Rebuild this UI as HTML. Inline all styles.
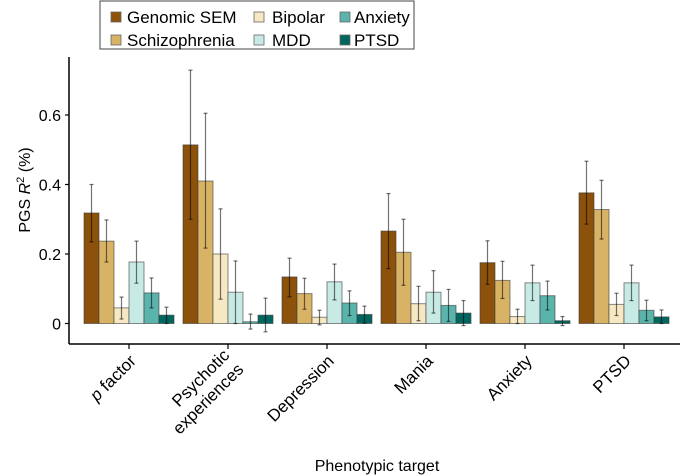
<!DOCTYPE html>
<html><head><meta charset="utf-8"><style>
body{margin:0;background:#fff}
svg{display:block;font-family:"Liberation Sans",Arial,sans-serif}
</style></head><body>
<svg id="c" width="685" height="476">
<g id="legend">
<rect x="100" y="1" width="314" height="48" fill="#fff" stroke="#444" stroke-width="1"/>
</g>
<g id="plot"></g>
<text x="30" y="190" font-size="16" text-anchor="middle" transform="rotate(-90 30 190)">PGS <tspan font-style="italic">R</tspan><tspan font-size="11" dy="-6">2</tspan><tspan dy="6"> (%)</tspan></text>
<text x="377" y="471" font-size="16" text-anchor="middle">Phenotypic target</text>
</svg>
<script>
const categories=["p factor","Psychotic experiences","Depression","Mania","Anxiety","PTSD"];
const series=["Genomic SEM","Schizophrenia","Bipolar","MDD","Anxiety","PTSD"];
const colors=["#8c510a","#d8b365","#f6e8c3","#c7eae5","#5ab4ac","#01665e"];
const vals=[
[0.318,0.237,0.045,0.177,0.088,0.024],
[0.514,0.41,0.2,0.09,0.005,0.024],
[0.134,0.086,0.018,0.12,0.059,0.026],
[0.266,0.205,0.057,0.09,0.052,0.03],
[0.175,0.124,0.02,0.117,0.08,0.008],
[0.376,0.328,0.055,0.117,0.038,0.019]];
const lo=[
[0.235,0.177,0.013,0.116,0.045,0.0],
[0.30,0.217,0.07,0.0,-0.016,-0.024],
[0.077,0.041,-0.004,0.068,0.023,0.001],
[0.158,0.11,0.008,0.03,0.006,-0.006],
[0.113,0.072,0.0,0.066,0.039,-0.006],
[0.286,0.243,0.023,0.066,0.008,0.0]];
const hi=[
[0.40,0.298,0.076,0.237,0.131,0.047],
[0.729,0.605,0.33,0.18,0.027,0.073],
[0.188,0.13,0.038,0.171,0.094,0.05],
[0.374,0.30,0.107,0.152,0.098,0.066],
[0.238,0.179,0.041,0.168,0.122,0.02],
[0.467,0.412,0.087,0.168,0.067,0.039]];
const yTicks=[0,0.2,0.4,0.6];
const yTickLabels=["0","0.2","0.4","0.6"];

const NS="http://www.w3.org/2000/svg";
const svg=document.getElementById('c'),plot=document.getElementById('plot'),leg=document.getElementById('legend');
function mk(t,a,p){const e=document.createElementNS(NS,t);for(const k in a)e.setAttribute(k,a[k]);(p||plot).appendChild(e);return e;}
const y0=323.5,k=347.5;
const Y=v=>y0-v*k;
const bw=15,gStart=84,gStep=99;
const X=(g,s)=>gStart+g*gStep+s*bw;
let ax=mk('line',{x1:69,y1:57,x2:69,y2:344,stroke:'#000','stroke-width':1.5});


let bx=mk('line',{x1:69,y1:344,x2:680,y2:344,stroke:'#000','stroke-width':1.5});


yTicks.forEach((t,i)=>{
 const tk=mk('line',{x1:65,x2:69,y1:Y(t),y2:Y(t),stroke:'#000','stroke-width':1.2});
 
 
 const tl=mk('text',{x:61,y:Y(t)+6,'font-size':16,'text-anchor':'end'});
 tl.textContent=yTickLabels[i];
 
 
});
categories.forEach((c,g)=>{
 vals[g].forEach((v,s)=>{
  const top=Math.min(Y(v),Y(0)),h=Math.abs(Y(v)-Y(0));
  const r=mk('rect',{x:X(g,s),y:top,width:bw,height:Math.max(h,0.5),fill:colors[s],stroke:'rgba(60,60,60,0.6)','stroke-width':1});
  
  
 });
 vals[g].forEach((v,s)=>{
  const cx=X(g,s)+bw/2;
  const eg=mk('g',{stroke:'rgba(0,0,0,0.55)','stroke-width':1.2});
  
  
  mk('line',{x1:cx,x2:cx,y1:Y(lo[g][s]),y2:Y(hi[g][s])},eg);
  mk('line',{x1:cx-2,x2:cx+2,y1:Y(lo[g][s]),y2:Y(lo[g][s])},eg);
  mk('line',{x1:cx-2,x2:cx+2,y1:Y(hi[g][s]),y2:Y(hi[g][s])},eg);
 });
 const cx=gStart+g*gStep+3*bw;
 const tk=mk('line',{x1:cx,x2:cx,y1:344,y2:349,stroke:'#000','stroke-width':1.2});
 
 
 const tx=cx+8,ty=362;
 const t=mk('text',{x:tx,y:ty,'font-size':17,'text-anchor':'end',transform:`rotate(-45 ${tx} ${ty})`});
 
 
 if(c==="p factor"){t.innerHTML='<tspan font-style="italic">p</tspan> factor';}
 else if(c==="Psychotic experiences"){
  t.innerHTML=`<tspan x="${tx}" dy="-8">Psychotic</tspan><tspan x="${tx}" dy="20">experiences</tspan>`;
 } else t.textContent=c;
});
const lx=[111,254,340],ltx=[127,272,354],ly=[17,40];
series.forEach((s,i)=>{
 const col=Math.floor(i/2),row=i%2;
 const sw=mk('rect',{x:lx[col],y:ly[row]-5,width:10,height:10,fill:colors[i],stroke:'#666','stroke-width':0.8},leg);
 
 
 const t=mk('text',{x:ltx[col],y:ly[row]+6,'font-size':17},leg);
 t.textContent=s;
 
 
});
</script>
</body></html>
